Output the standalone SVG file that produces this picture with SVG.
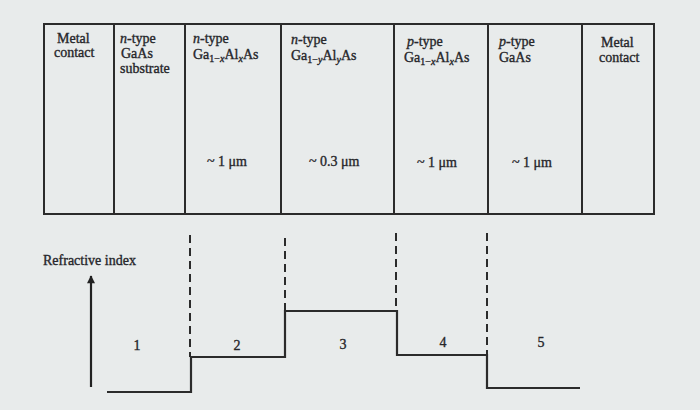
<svg xmlns="http://www.w3.org/2000/svg" width="700" height="410" viewBox="0 0 700 410">
<defs>
<marker id="ah" viewBox="0 0 10 10" refX="9" refY="5" markerWidth="13" markerHeight="8" orient="auto" markerUnits="userSpaceOnUse">
<path d="M0,0 L10,5 L0,10 Z" fill="#222"/>
</marker>
</defs>
<style>
text{font-family:"Liberation Serif","Times New Roman",serif;font-size:14px;fill:#26262a;stroke:#26262a;stroke-width:0.35px;}
.sub{font-size:10px;}
.i{font-style:italic;}
.box{fill:none;stroke:#2b2b2b;stroke-width:2;}
.div{stroke:#2b2b2b;stroke-width:2;}
.step{fill:none;stroke:#2b2b2b;stroke-width:2.2;}
.dash{stroke:#2b2b2b;stroke-width:2;stroke-dasharray:8 5;}
</style>
<rect width="700" height="410" fill="#e8ebeb"/>
<g id="layer-structure">
<rect x="44" y="24" width="610" height="190" fill="#f1f2f1" class="box"/>
<line class="div" x1="114" y1="24" x2="114" y2="214"/>
<line class="div" x1="185" y1="24" x2="185" y2="214"/>
<line class="div" x1="281" y1="24" x2="281" y2="214"/>
<line class="div" x1="394" y1="24" x2="394" y2="214"/>
<line class="div" x1="488" y1="24" x2="488" y2="214"/>
<line class="div" x1="582" y1="24" x2="582" y2="214"/>
</g>
<g id="metal-contact-left">
<text x="57" y="43">Metal</text>
<text x="54" y="57">contact</text>
</g>
<g id="n-gaas-substrate">
<text x="120" y="43"><tspan class="i">n</tspan>-type</text>
<text x="121" y="58">GaAs</text>
<text x="120" y="73">substrate</text>
</g>
<g id="n-gaalas-x">
<text x="193" y="43"><tspan class="i">n</tspan>-type</text>
<text x="193" y="59">Ga<tspan class="sub" dy="3">1−<tspan class="i">x</tspan></tspan><tspan dy="-3">Al</tspan><tspan class="sub i" dy="3">x</tspan><tspan dy="-3">As</tspan></text>
<text x="207" y="166">~ 1 μm</text>
</g>
<g id="n-gaalas-y">
<text x="291" y="44"><tspan class="i">n</tspan>-type</text>
<text x="291" y="60">Ga<tspan class="sub" dy="3">1−<tspan class="i">y</tspan></tspan><tspan dy="-3">Al</tspan><tspan class="sub i" dy="3">y</tspan><tspan dy="-3">As</tspan></text>
<text x="309" y="166">~ 0.3 μm</text>
</g>
<g id="p-gaalas-x">
<text x="407" y="46"><tspan class="i">p</tspan>-type</text>
<text x="404" y="62">Ga<tspan class="sub" dy="3">1−<tspan class="i">x</tspan></tspan><tspan dy="-3">Al</tspan><tspan class="sub i" dy="3">x</tspan><tspan dy="-3">As</tspan></text>
<text x="417" y="167">~ 1 μm</text>
</g>
<g id="p-gaas">
<text x="499" y="46"><tspan class="i">p</tspan>-type</text>
<text x="499" y="62">GaAs</text>
<text x="512" y="167">~ 1 μm</text>
</g>
<g id="metal-contact-right">
<text x="601" y="47">Metal</text>
<text x="599" y="62">contact</text>
</g>
<g id="refractive-index-profile">
<text x="43" y="265">Refractive index</text>
<line x1="91" y1="387" x2="91" y2="276" stroke="#222" stroke-width="2.2" marker-end="url(#ah)"/>
<path class="step" d="M107,392 H191 V357 H285 V311 H397 V355 H487 V388 H580"/>
<line class="dash" x1="190" y1="235" x2="190" y2="357"/>
<line class="dash" x1="285" y1="238" x2="285" y2="311"/>
<line class="dash" x1="396" y1="233" x2="396" y2="311"/>
<line class="dash" x1="487" y1="233" x2="487" y2="355"/>
<text x="137" y="350" text-anchor="middle">1</text>
<text x="237" y="350" text-anchor="middle">2</text>
<text x="343" y="349" text-anchor="middle">3</text>
<text x="443" y="347" text-anchor="middle">4</text>
<text x="541" y="347" text-anchor="middle">5</text>
</g>
</svg>
